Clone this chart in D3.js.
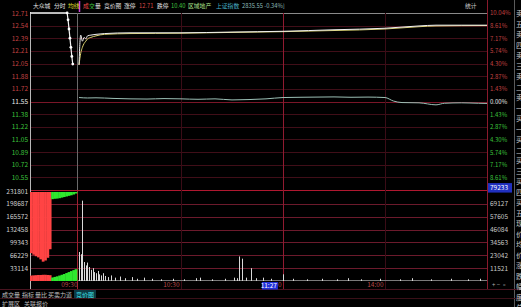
<!DOCTYPE html>
<meta charset="utf-8">
<head>
    <title>大众城 竞价图</title>
    <style>
        body { margin: 0; background: #000; }
        svg { display: block; }
    </style>
</head>
<body>
<svg width="521" height="307"></svg>
<script src="https://cdn.jsdelivr.net/npm/d3@7"></script>
<script>

    // ---- data ----
    var prevClose = 11.55;

    // price pane ticks (percent of prev close) and their labels
    var pctTicks = [10.04, 8.61, 7.17, 5.74, 4.30, 2.87, 1.43, 0, -1.43, -2.87, -4.30, -5.74, -7.17, -8.61, -10.04];
    var priceLabels = ["12.71", "12.54", "12.39", "12.21", "12.05", "11.88", "11.72", "11.55", "11.38", "11.22", "11.05", "10.89", "10.72", "10.55", ""];
    var pctLabels = ["10.04%", "8.61%", "7.17%", "5.74%", "4.30%", "2.87%", "1.43%", "0.00%", "1.43%", "2.87%", "4.30%", "5.74%", "7.17%", "8.61%", ""];

    // volume pane ticks
    var volTicksL = [33114, 66229, 99343, 132458, 165572, 198687, 231801];
    var volTicksR = [11521, 23042, 34563, 46084, 57605, 69127];

    // time axis
    var timeTickMin = [0, 60, 120, 180];
    var timeTickLabels = ["09:30", "10:30", "11:30", "14:00"];

    // call auction price (minutes after 09:15)
    var auctionMin = [0, 1, 2, 3, 4, 5, 6, 7, 7.9, 8.1, 8.3, 8.5, 8.7, 8.9, 9.1];
    var auctionPrice = [12.71, 12.71, 12.71, 12.71, 12.71, 12.71, 12.71, 12.71, 12.71, 12.62, 12.50, 12.38, 12.26, 12.14, 12.04];

    // trading price / average (minutes after 09:30)
    var tradeMin = [0, 1, 2, 3, 4, 5, 7, 10, 15, 30, 60, 90, 120, 150, 180, 200, 210, 240];
    var tradePrice = [12.03, 12.42, 12.34, 12.39, 12.37, 12.41, 12.42, 12.43, 12.44, 12.45, 12.45, 12.46, 12.47, 12.49, 12.51, 12.54, 12.55, 12.55];
    var avgPrice = [12.03, 12.18, 12.26, 12.31, 12.34, 12.37, 12.39, 12.41, 12.43, 12.44, 12.445, 12.455, 12.465, 12.48, 12.50, 12.53, 12.54, 12.545];

    // index line (percent)
    var idxMin = [0, 5, 10, 20, 30, 40, 50, 60, 70, 80, 90, 100, 110, 120, 130, 140, 150, 160, 170, 180, 185, 190, 200, 210, 215, 225, 235, 240];
    var idxPct = [0.45, 0.40, 0.42, 0.35, 0.30, 0.28, 0.33, 0.30, 0.25, 0.30, 0.18, 0.22, 0.30, 0.45, 0.48, 0.50, 0.52, 0.48, 0.50, 0.45, 0.05, -0.12, -0.15, -0.38, -0.20, -0.15, -0.20, -0.22];

    // call auction volume, half minute bins: unmatched (+buy / -sell) and matched
    var aucBin = [0, 0.5, 1, 1.5, 2, 2.5, 3, 3.5, 4, 4.5, 5, 5.5, 6, 6.5, 7, 7.5, 8, 8.5, 9, 9.5];
    var aucUnmatched = [160000, 164000, 168000, 171000, 176000, 182000, 179000, 172000, 150000,
        -21000, -20000, -19500, -18500, -17000, -15500, -14000, -12500, -11000, -9000, -6500];
    var aucMatched = [14000, 14500, 15000, 15500, 15500, 16000, 16000, 15500, 15000,
        9000, 10500, 12000, 14000, 16000, 18000, 20500, 23000, 25500, 28000, 30500];

    // trading minute volume
    var volMin = [0, 1, 2, 3, 4, 5, 6, 7, 8, 9, 10, 11, 12, 13, 14, 15, 17, 19, 21, 24, 27, 31, 34, 38, 43, 48, 55, 62, 69, 71, 78, 86,
        91, 93, 94, 96, 98, 101, 104, 108, 113, 120, 126, 134, 143, 152, 158, 166, 177, 189, 196, 207, 219, 229, 236];
    var volVal = [26000, 24000, 72000, 17000, 14000, 16500, 12500, 10000, 11500, 8000, 7000, 9000, 6000, 5000, 7000, 4500, 3500, 5000,
        3000, 4000, 2500, 3500, 2000, 3000, 2000, 1500, 2000, 1500, 2500, 3000, 1500, 2000,
        3000, 2500, 22000, 20000, 3000, 11500, 2500, 3000, 2000, 6000, 2000, 1500, 2000, 1500, 2500, 1500, 2000, 1500, 2500, 1500, 2000, 1500, 2000];

    // crosshair readouts
    var crossMin = 117, crossTime = "11:27", crossVol = 79233;

    // header items
    var header = [
        {x: 33, t: "大众城", c: "#e6e6e6"}, {x: 54, t: "分时", c: "#e6e6e6"}, {x: 68, t: "均线", c: "#e8e030"},
        {x: 83, t: "成", c: "#f04848"}, {x: 89, t: "交", c: "#40d040"}, {x: 95, t: "量", c: "#e6e6e6"},
        {x: 104, t: "竞价图", c: "#e6e6e6"}, {x: 124, t: "涨停", c: "#e6e6e6"}, {x: 139, t: "12.71", c: "#d84848"},
        {x: 157, t: "跌停", c: "#e6e6e6"}, {x: 171, t: "10.40", c: "#40c040"}, {x: 188, t: "区域地产", c: "#a8e088"},
        {x: 216, t: "上证指数", c: "#48b0c8"}, {x: 242, t: "2835.55 -0.34%]", c: "#8ab8b8"}, {x: 465, t: "统计", c: "#c8c8c8"}
    ];
    var tabs = ["成交量", "指标", "量比", "买卖力道", "竞价图"];
    var tabs2 = ["扩展区", "关联报价"];
    var sideChars = "卖五卖四卖三卖二卖一买一买二买三买四买五现价均价涨跌幅度总量".split("");

    // ---- layout ----
    var svg = d3.select("svg"),
        font = "'Noto Sans CJK SC', 'DejaVu Sans', sans-serif";
    var L = 30, R = 487, aucEnd = 77;
    var priceTop = 13, priceBot = 190, volTop = 191, volBot = 281;

    svg.append("rect").attr("width", 521).attr("height", 307).attr("fill", "#000");

    var xAuc = d3.scaleLinear().domain([0, 10]).range([L, aucEnd]);
    var xT = d3.scaleLinear().domain([0, 240]).range([79, R]);
    var yPct = d3.scaleLinear().domain([-10.04, 10.04]).range([priceBot, priceTop]);
    var yVolL = d3.scaleLinear().domain([0, 231801]).range([volBot, volTop]);
    var yVolHang = d3.scaleLinear().domain([0, 231801]).range([volTop, volBot]);
    var yVolR = d3.scaleLinear().domain([0, 80648]).range([volBot, volTop]);
    function pct(p) { return (p / prevClose - 1) * 100; }
    function crisp(v) { return Math.round(v) + 0.5; }

    // price grid
    svg.append("g").selectAll("line").data(pctTicks).join("line")
        .attr("x1", L).attr("x2", R)
        .attr("y1", function(d) { return crisp(yPct(d)); })
        .attr("y2", function(d) { return crisp(yPct(d)); })
        .attr("stroke", function(d, i) {
            if (i === 0) return "#8a8a8a";
            if (i === pctTicks.length - 1) return "#b01830";
            return d === 0 ? "#7a1628" : "#400e18";
        });

    // volume grid
    svg.append("g").selectAll("line").data(volTicksL.slice(0, 6)).join("line")
        .attr("x1", L).attr("x2", R)
        .attr("y1", function(d) { return crisp(yVolL(d)); })
        .attr("y2", function(d) { return crisp(yVolL(d)); })
        .attr("stroke", "#6c1a2c");

    // vertical grid
    svg.append("g").selectAll("line").data([60, 120, 180]).join("line")
        .attr("x1", function(d) { return crisp(xT(d)); })
        .attr("x2", function(d) { return crisp(xT(d)); })
        .attr("y1", priceTop).attr("y2", 289)
        .attr("stroke", function(d) { return d === 120 ? "#901a30" : "#3a0c16"; });

    // borders
    svg.append("line").attr("x1", L + 0.5).attr("x2", L + 0.5).attr("y1", 12).attr("y2", 289).attr("stroke", "#b8b8b8");
    svg.append("line").attr("x1", R + 0.5).attr("x2", R + 0.5).attr("y1", 0).attr("y2", 289).attr("stroke", "#8a1a2c");
    svg.append("line").attr("x1", aucEnd + 0.5).attr("x2", aucEnd + 0.5).attr("y1", priceTop).attr("y2", priceBot).attr("stroke", "#6a6a6a");
    svg.append("line").attr("x1", aucEnd + 0.5).attr("x2", aucEnd + 0.5).attr("y1", volTop).attr("y2", 289).attr("stroke", "#a02030");
    svg.append("line").attr("x1", 514.5).attr("x2", 514.5).attr("y1", 0).attr("y2", 307).attr("stroke", "#5a5a5a");
    svg.append("line").attr("x1", 0).attr("x2", 521).attr("y1", 289.5).attr("y2", 289.5).attr("stroke", "#4a1420");
    svg.append("line").attr("x1", 0).attr("x2", 521).attr("y1", 298.5).attr("y2", 298.5).attr("stroke", "#3a1018");
    svg.append("line").attr("x1", xT(0) + 0.5).attr("x2", xT(0) + 0.5).attr("y1", 1).attr("y2", 12).attr("stroke", "#d040d8").attr("stroke-width", 1.5);

    // auction volume: unmatched hangs from top, matched stands on bottom
    var bw = xAuc(0.5) - xAuc(0) + 0.4;
    var aucG = svg.append("g");
    aucG.selectAll("rect.un").data(aucBin).join("rect").attr("class", "un")
        .attr("x", function(d) { return xAuc(d); })
        .attr("width", bw)
        .attr("y", volTop + 1)
        .attr("height", function(d, i) { return yVolHang(Math.abs(aucUnmatched[i])) - volTop - 1; })
        .attr("fill", function(d, i) { return aucUnmatched[i] > 0 ? "#ff4444" : "#2ee82e"; });
    aucG.selectAll("rect.mt").data(aucBin).join("rect").attr("class", "mt")
        .attr("x", function(d) { return xAuc(d); })
        .attr("width", bw)
        .attr("y", function(d, i) { return yVolL(aucMatched[i]); })
        .attr("height", function(d, i) { return volBot - yVolL(aucMatched[i]); })
        .attr("fill", function(d, i) { return aucUnmatched[i] > 0 ? "#ff4444" : "#2ee82e"; });

    // trading volume bars
    svg.append("line").attr("x1", aucEnd + 1).attr("x2", R).attr("y1", volBot - 0.5).attr("y2", volBot - 0.5).attr("stroke", "#7a7a7a");
    svg.append("g").selectAll("rect").data(volMin).join("rect")
        .attr("x", function(d) { return Math.round(xT(d)); })
        .attr("width", 1)
        .attr("y", function(d, i) { return yVolR(volVal[i]); })
        .attr("height", function(d, i) { return volBot - yVolR(volVal[i]); })
        .attr("fill", "#d8d8d8");

    // index line
    svg.append("path")
        .datum(idxMin)
        .attr("fill", "none").attr("stroke", "#9cc0b6").attr("stroke-width", 1)
        .attr("d", d3.line()
            .x(function(d) { return xT(d); })
            .y(function(d, i) { return yPct(idxPct[i]); })
            .curve(d3.curveMonotoneX));

    // auction price with dots
    svg.append("path")
        .datum(auctionMin)
        .attr("fill", "none").attr("stroke", "#f4f4f4").attr("stroke-width", 1.2)
        .attr("d", d3.line()
            .x(function(d) { return xAuc(d); })
            .y(function(d, i) { return yPct(pct(auctionPrice[i])); }));
    svg.append("g").selectAll("circle").data(auctionMin.filter(function(d, i) { return i >= 8; })).join("circle")
        .attr("cx", function(d) { return xAuc(d); })
        .attr("cy", function(d) { return yPct(pct(auctionPrice[auctionMin.indexOf(d)])); })
        .attr("r", 1.4).attr("fill", "#fff");

    // average and price lines
    svg.append("path")
        .datum(tradeMin)
        .attr("fill", "none").attr("stroke", "#d8d070").attr("stroke-width", 1)
        .attr("d", d3.line()
            .x(function(d) { return xT(d); })
            .y(function(d, i) { return yPct(pct(avgPrice[i])); })
            .curve(d3.curveMonotoneX));
    svg.append("path")
        .datum(tradeMin)
        .attr("fill", "none").attr("stroke", "#f0f0f0").attr("stroke-width", 1)
        .attr("d", d3.line()
            .x(function(d) { return xT(d); })
            .y(function(d, i) { return yPct(pct(tradePrice[i])); })
            .curve(d3.curveMonotoneX));

    // axes
    function styleAxis(g, size) {
        g.attr("font-family", font).attr("font-size", size);
        g.select(".domain").remove();
        g.selectAll(".tick line").remove();
    }
    var axL = svg.append("g").attr("transform", "translate(29,0)")
        .call(d3.axisLeft(yPct).tickValues(pctTicks.slice(0, 14)).tickSize(0).tickPadding(1)
            .tickFormat(function(d, i) { return priceLabels[i]; }));
    styleAxis(axL, 6.5);
    axL.selectAll("text").attr("fill", function(d) { return d > 0 ? "#c04040" : d === 0 ? "#ececec" : "#3cc03c"; });

    var axR = svg.append("g").attr("transform", "translate(490,0)")
        .call(d3.axisRight(yPct).tickValues(pctTicks.slice(0, 14)).tickSize(0).tickPadding(0)
            .tickFormat(function(d, i) { return pctLabels[i]; }));
    styleAxis(axR, 6);
    axR.selectAll("text").attr("fill", function(d) { return d > 0 ? "#c04040" : d === 0 ? "#ececec" : "#3cc03c"; });

    var axVL = svg.append("g").attr("transform", "translate(29,0)")
        .call(d3.axisLeft(yVolL).tickValues(volTicksL).tickSize(0).tickPadding(1).tickFormat(d3.format("d")));
    styleAxis(axVL, 6.5);
    axVL.selectAll("text").attr("fill", "#d0d0d0");

    var axVR = svg.append("g").attr("transform", "translate(490,0)")
        .call(d3.axisRight(yVolR).tickValues(volTicksR).tickSize(0).tickPadding(0).tickFormat(d3.format("d")));
    styleAxis(axVR, 6.5);
    axVR.selectAll("text").attr("fill", "#c8c8c8");

    var axT = svg.append("g").attr("transform", "translate(0," + volBot + ")")
        .call(d3.axisBottom(xT).tickValues(timeTickMin).tickSize(0).tickPadding(1)
            .tickFormat(function(d, i) { return timeTickLabels[i]; }));
    styleAxis(axT, 6.5);
    axT.selectAll("text").attr("text-anchor", "end").attr("dx", -2).attr("fill", "#b84848");

    // crosshair readouts
    var cx = xT(crossMin);
    svg.append("rect").attr("x", cx - 16).attr("y", 282).attr("width", 16).attr("height", 7.5).attr("fill", "#2030d8");
    svg.append("text").attr("x", cx - 1).attr("y", 288).attr("text-anchor", "end")
        .attr("font-family", font).attr("font-size", 6.5).attr("fill", "#fff").text(crossTime);
    var cy = yVolR(crossVol);
    svg.append("rect").attr("x", 488).attr("y", cy - 9.5).attr("width", 24).attr("height", 9.5).attr("fill", "#2030c0");
    svg.append("text").attr("x", 490).attr("y", cy - 2.5)
        .attr("font-family", font).attr("font-size", 6.5).attr("fill", "#fff").text(d3.format("d")(crossVol));

    // header
    svg.append("g").selectAll("text").data(header).join("text")
        .attr("x", function(d) { return d.x; }).attr("y", 8)
        .attr("font-family", font).attr("font-size", 5.8)
        .attr("fill", function(d) { return d.c; })
        .text(function(d) { return d.t; });

    // bottom tabs
    var tabX = [2, 22, 35, 48, 76];
    svg.append("rect").attr("x", 74).attr("y", 290).attr("width", 22).attr("height", 8).attr("fill", "#0c3a44");
    svg.append("g").selectAll("text").data(tabs).join("text")
        .attr("x", function(d, i) { return tabX[i]; }).attr("y", 296.5)
        .attr("font-family", font).attr("font-size", 6)
        .attr("fill", function(d, i) { return i === 4 ? "#40e0e8" : "#c0c0c0"; })
        .text(function(d) { return d; });
    svg.append("g").selectAll("text").data(tabs2).join("text")
        .attr("x", function(d, i) { return [2, 24][i]; }).attr("y", 305.5)
        .attr("font-family", font).attr("font-size", 6)
        .attr("fill", "#b8b8b8")
        .text(function(d) { return d; });
    svg.append("text").attr("x", 492).attr("y", 287).attr("font-family", font).attr("font-size", 6)
        .attr("fill", "#b0b0b0").text("+  −  ▫");

    // cut-off side panel text
    svg.append("g").selectAll("text").data(sideChars).join("text")
        .attr("x", 516).attr("y", function(d, i) { return 16 + i * 10.5; })
        .attr("font-family", font).attr("font-size", 7)
        .attr("fill", "#c8c8c8")
        .text(function(d) { return d; });

</script>
</body>
